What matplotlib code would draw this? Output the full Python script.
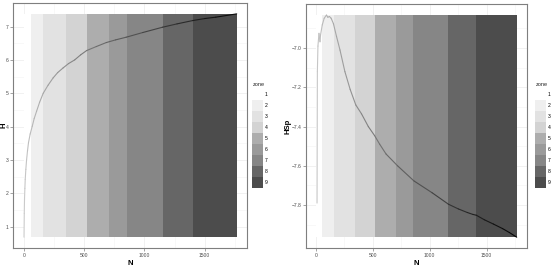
import numpy as np
import matplotlib
matplotlib.use("Agg")
import matplotlib.pyplot as plt
from matplotlib.collections import LineCollection
from matplotlib.patches import Patch, Rectangle

plt.rcParams['font.family'] = ['Liberation Sans', 'DejaVu Sans']

# zones (shared by both panels)
zone_labels = ['1', '2', '3', '4', '5', '6', '7', '8', '9']
zone_edges = [1, 56, 157, 347, 521, 707, 854, 1157, 1405, 1765]
zone_colors = ['#ffffff', '#efefef', '#e2e2e2', '#d3d3d3', '#adadad',
               '#9a9a9a', '#868686', '#666666', '#4c4c4c']

# left panel: H vs N
n_h = [1, 3, 5, 8, 11, 16, 22, 30, 38, 52, 69, 85, 105, 130, 160, 200, 242,
       280, 325, 370, 421, 470, 520, 600, 683, 760, 848, 985, 1150, 1270,
       1401, 1500, 1591, 1765]
h = [0.69, 1.4, 1.83, 2.15, 2.42, 2.72, 3.0, 3.28, 3.52, 3.78, 4.01, 4.24,
     4.46, 4.73, 5.0, 5.24, 5.46, 5.62, 5.76, 5.89, 6.0, 6.15, 6.28, 6.40,
     6.52, 6.60, 6.68, 6.82, 6.98, 7.08, 7.18, 7.24, 7.28, 7.38]

# right panel: HSp vs N
n_hsp = [9, 12, 17, 26, 35, 40, 55, 72, 92, 104, 118, 133, 153, 180, 211,
         254, 300, 350, 400, 460, 515, 560, 616, 717, 861, 1020, 1165, 1252,
         1330, 1380, 1410, 1480, 1560, 1640, 1700, 1765]
hsp = [-7.79, -7.12, -6.99, -6.925, -6.968, -6.933, -6.882, -6.848, -6.832,
       -6.843, -6.839, -6.848, -6.875, -6.94, -7.01, -7.12, -7.21, -7.29,
       -7.335, -7.40, -7.446, -7.49, -7.54, -7.60, -7.677, -7.737, -7.796,
       -7.82, -7.838, -7.848, -7.852, -7.875, -7.897, -7.92, -7.94, -7.964]

W, H = 553, 272
fig = plt.figure(figsize=(W / 100, H / 100), dpi=100)


def panel(rect, x, y, ylabel, ylabx, yticks, yminor, legx):
    ax = fig.add_axes([rect[0] / W, 1 - rect[3] / H,
                       (rect[2] - rect[0]) / W, (rect[3] - rect[1]) / H])
    ymin, ymax = min(y), max(y)
    for i in range(len(zone_labels)):
        ax.add_patch(Rectangle((zone_edges[i], ymin),
                               zone_edges[i + 1] - zone_edges[i], ymax - ymin,
                               facecolor=zone_colors[i], lw=0, zorder=1))
    span = ymax - ymin
    ax.set_ylim(ymin - 0.05 * span, ymax + 0.05 * span)
    ax.set_xlim(-88, 1853)

    xs = np.asarray(x, float)
    ys = np.asarray(y, float)
    pts = np.column_stack([xs, ys]).reshape(-1, 1, 2)
    segs = np.concatenate([pts[:-1], pts[1:]], axis=1)
    shade = 0.8 - 0.8 * (xs[:-1] / xs.max()) ** 0.7
    lc = LineCollection(segs, colors=[(s, s, s) for s in shade], lw=0.8,
                        zorder=3, capstyle='round', joinstyle='round')
    ax.add_collection(lc)

    ax.set_xticks([0, 500, 1000, 1500])
    ax.set_xticks([250, 750, 1250, 1750], minor=True)
    ax.set_yticks(yticks)
    ax.set_yticks(yminor, minor=True)
    ax.grid(True, which='major', color='#ebebeb', lw=0.5, zorder=0)
    ax.grid(True, which='minor', color='#f3f3f3', lw=0.4, zorder=0)
    ax.set_axisbelow(True)
    ax.tick_params(which='major', length=2, width=0.5, color='#7f7f7f',
                   labelsize=3.6, labelcolor='#4d4d4d', pad=1.5)
    ax.tick_params(which='minor', length=0)
    for s in ax.spines.values():
        s.set_color('#7f7f7f')
        s.set_linewidth(0.8)
    ax.set_xlabel('N', fontsize=5.5, fontweight='bold', labelpad=1)
    ax.set_ylabel(ylabel, fontsize=5.5, fontweight='bold')
    ax.yaxis.set_label_coords((ylabx - rect[0]) / (rect[2] - rect[0]), 0.5)

    handles = [Patch(facecolor=c, edgecolor='none') for c in zone_colors]
    fig.legend(handles, zone_labels,
               loc='upper left', bbox_to_anchor=(legx / W, 1 - 89 / H),
               frameon=False, fontsize=3.6,
               handlelength=2.1, handleheight=3.0, labelspacing=0,
               handletextpad=0.5, borderpad=0, borderaxespad=0)
    fig.text((legx + 0.5) / W, 1 - 85 / H, 'zone', fontsize=4,
             ha='left', va='center', color='#222222')
    return ax


panel((13.3, 2.7, 247.3, 248.3), n_h, h, 'H', 7,
      [1, 2, 3, 4, 5, 6, 7], [1.5, 2.5, 3.5, 4.5, 5.5, 6.5], 252)
panel((306, 4, 526.7, 248.3), n_hsp, hsp, 'HSp', 291,
      [-7.8, -7.6, -7.4, -7.2, -7.0], [-7.9, -7.7, -7.5, -7.3, -7.1, -6.9],
      535)

fig.savefig('out.png', dpi=100)
